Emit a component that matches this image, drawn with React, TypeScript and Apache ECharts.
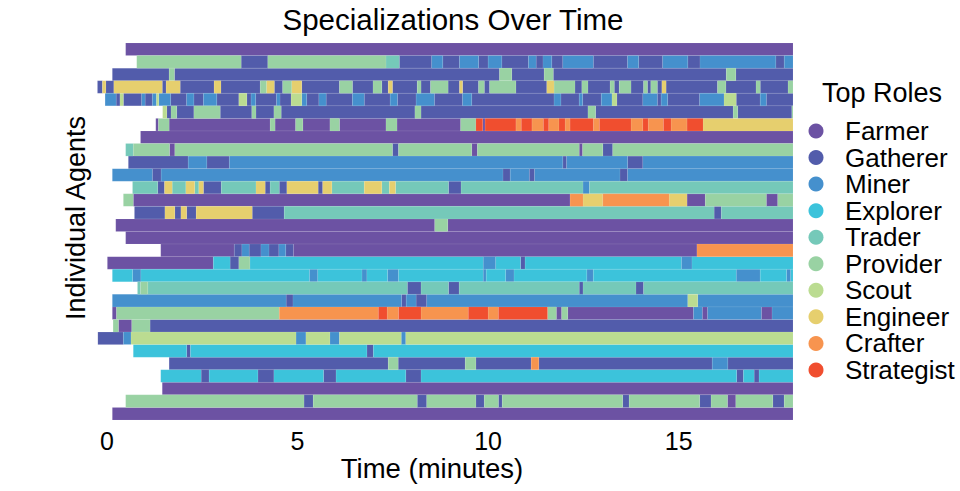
import React, { useEffect, useRef } from "react";
import * as echarts from "echarts";

const FONT = "'Liberation Sans', Arial, Helvetica, sans-serif";

const roleNames = ["Farmer", "Gatherer", "Miner", "Explorer", "Trader", "Provider", "Scout", "Engineer", "Crafter", "Strategist"];
const roleCodes = ["F", "G", "M", "X", "T", "P", "S", "E", "C", "R"];
const roleColors = ["#6c52a3", "#525cab", "#4590cd", "#3cc3db", "#75c9b9", "#99d2a3", "#bbdc91", "#e6cf6e", "#f7944f", "#f04e2f"];

const tickLabels = [0, 5, 10, 15];
const timeMin = 0;
const timeMax = 18;

// time (minutes) at which each agent's record starts, top row first
const agentStarts = [
  0.49, 0.78, 0.14, -0.25, -0.05, 1.46, 1.28, 0.88, 0.49, 0.56,
  0.14, 0.67, 0.43, 0.72, 0.23, 0.49, 1.41, 0.01, 0.14, 0.8,
  0.14, 0.14, 0.16, -0.24, 0.69, 1.63, 1.41, 1.45, 0.49, 0.14,
];

// per agent: role code followed by the time (minutes) at which that role ends
const agentSegments: (string | number)[][] = [
  ["F", 18],
  ["P", 3.52, "G", 4.22, "P", 7.32, "T", 7.67, "G", 8.52, "M", 8.81, "G", 9.25, "M", 9.75, "G", 10.0, "M", 10.36, "G", 11.06, "M", 11.26, "G", 11.44, "M", 11.67, "G", 11.96, "M", 12.76, "G", 13.66, "M", 13.95, "G", 14.58, "M", 15.24, "G", 15.56, "M", 17.55, "G", 17.77, "M", 18],
  ["G", 1.63, "P", 1.77, "G", 10.3, "P", 10.62, "G", 11.47, "P", 11.71, "G", 16.25, "P", 16.5, "G", 18],
  ["G", -0.12, "E", -0.03, "G", 0.18, "E", 1.45, "G", 1.55, "E", 1.92, "G", 2.81, "E", 2.99, "G", 4.02, "P", 4.19, "E", 4.39, "G", 4.61, "P", 4.85, "E", 5.11, "G", 6.1, "P", 6.44, "G", 6.98, "P", 7.21, "G", 7.38, "E", 7.49, "G", 8.14, "P", 8.24, "G", 8.49, "P", 8.95, "G", 9.25, "E", 9.33, "G", 9.75, "P", 9.9, "G", 10.04, "P", 10.73, "G", 11.54, "E", 11.73, "P", 12.28, "G", 12.46, "P", 12.62, "G", 13.2, "P", 13.31, "G", 13.44, "P", 13.75, "G", 14.08, "P", 14.18, "G", 14.27, "P", 14.44, "G", 14.56, "E", 14.67, "G", 16.02, "P", 16.24, "G", 17.03, "P", 17.14, "G", 17.87, "P", 18],
  ["M", 0.24, "G", 0.34, "S", 0.43, "G", 0.91, "M", 1.0, "G", 1.19, "M", 1.3, "S", 1.36, "M", 1.67, "G", 2.09, "M", 2.28, "G", 2.53, "M", 2.88, "G", 3.46, "S", 3.67, "G", 3.78, "M", 3.9, "G", 4.45, "M", 4.54, "G", 4.83, "S", 5.11, "M", 5.24, "G", 5.56, "M", 5.75, "G", 6.44, "M", 6.75, "G", 7.43, "M", 7.62, "G", 8.11, "M", 8.59, "G", 9.33, "M", 9.57, "G", 11.73, "M", 11.91, "G", 12.39, "M", 12.48, "G", 12.97, "M", 13.25, "S", 13.38, "G", 14.06, "M", 14.44, "G", 14.54, "M", 14.71, "G", 15.55, "M", 16.19, "S", 16.51, "G", 17.14, "M", 17.3, "G", 18],
  ["S", 1.57, "G", 1.68, "P", 1.83, "G", 2.28, "P", 2.97, "G", 3.8, "P", 3.91, "G", 4.38, "P", 4.57, "G", 8.08, "P", 8.24, "G", 12.62, "P", 12.82, "G", 16.43, "P", 16.55, "G", 17.97, "P", 18],
  ["F", 1.35, "P", 1.63, "F", 4.28, "P", 4.41, "F", 4.95, "P", 5.14, "F", 5.85, "P", 6.1, "F", 7.32, "P", 7.61, "F", 9.28, "P", 9.68, "R", 9.86, "F", 9.92, "R", 10.73, "C", 10.87, "R", 11.15, "C", 11.45, "R", 11.59, "C", 11.86, "R", 12.02, "C", 12.15, "R", 12.76, "C", 12.92, "R", 13.75, "C", 14.06, "R", 14.2, "C", 14.6, "R", 14.8, "C", 15.22, "R", 15.64, "E", 18],
  ["F", 18],
  ["T", 0.69, "P", 1.64, "F", 1.78, "P", 7.49, "G", 7.65, "P", 9.57, "F", 9.72, "P", 12.39, "F", 12.48, "P", 13.01, "G", 13.27, "P", 18],
  ["G", 2.13, "M", 2.62, "G", 3.21, "M", 11.96, "G", 12.06, "M", 13.66, "G", 14.06, "M", 18],
  ["M", 1.19, "G", 1.42, "M", 10.39, "G", 10.58, "M", 11.08, "G", 11.22, "M", 13.46, "G", 13.66, "M", 18],
  ["T", 1.33, "G", 1.51, "E", 1.71, "T", 2.07, "E", 2.3, "T", 2.41, "E", 2.53, "G", 3.0, "T", 3.91, "E", 4.15, "G", 4.28, "T", 4.52, "G", 4.72, "E", 5.54, "G", 5.66, "E", 5.9, "T", 6.75, "E", 7.21, "T", 7.41, "E", 7.57, "T", 8.96, "G", 9.29, "T", 12.49, "M", 12.66, "T", 18],
  ["P", 0.69, "F", 12.15, "C", 12.49, "E", 13.01, "C", 14.75, "E", 15.22, "F", 15.7, "P", 17.3, "F", 17.6, "P", 18],
  ["G", 1.52, "E", 1.78, "G", 1.94, "E", 2.09, "G", 2.34, "E", 3.81, "G", 4.65, "T", 15.93, "G", 16.12, "T", 18],
  ["F", 8.6, "P", 8.94, "F", 18],
  ["F", 18],
  ["F", 3.34, "G", 3.54, "M", 3.73, "G", 4.04, "M", 4.25, "G", 4.51, "M", 4.69, "G", 4.89, "F", 15.48, "C", 18],
  ["F", 2.79, "X", 3.23, "G", 3.46, "P", 3.75, "X", 9.87, "M", 10.2, "X", 10.85, "G", 10.97, "X", 15.07, "M", 15.35, "X", 18],
  ["X", 0.67, "M", 0.89, "X", 5.31, "M", 5.53, "X", 6.69, "M", 6.82, "X", 7.36, "M", 7.65, "X", 9.87, "M", 9.95, "X", 10.46, "M", 10.68, "X", 12.59, "M", 12.76, "X", 16.51, "M", 17.14, "X", 17.83, "M", 17.94, "X", 18],
  ["T", 0.88, "P", 1.07, "T", 7.88, "G", 8.24, "T", 8.96, "G", 9.24, "T", 12.39, "G", 12.49, "T", 13.88, "G", 14.08, "T", 18],
  ["M", 4.7, "G", 4.88, "M", 7.73, "G", 7.85, "M", 8.11, "G", 8.39, "M", 15.24, "S", 15.5, "M", 18],
  ["F", 0.25, "P", 4.52, "C", 7.12, "R", 7.35, "C", 7.65, "R", 8.24, "C", 9.48, "R", 10.0, "C", 10.27, "R", 11.56, "P", 11.79, "F", 11.93, "P", 12.09, "F", 15.39, "M", 15.62, "F", 15.76, "M", 17.17, "F", 17.45, "M", 18],
  ["P", 0.3, "F", 0.65, "P", 1.13, "G", 18],
  ["G", 0.43, "M", 0.63, "S", 4.96, "M", 5.22, "S", 5.85, "M", 6.1, "S", 7.72, "M", 7.84, "S", 18],
  ["X", 2.09, "G", 2.19, "X", 6.82, "G", 6.99, "X", 18],
  ["G", 7.38, "P", 7.64, "G", 9.4, "P", 9.68, "G", 11.13, "C", 11.33, "G", 15.88, "M", 16.29, "G", 18],
  ["X", 2.47, "G", 2.68, "X", 3.96, "G", 4.38, "X", 5.68, "G", 6.01, "X", 7.84, "G", 8.24, "X", 16.52, "G", 16.7, "X", 16.98, "G", 17.11, "X", 18],
  ["F", 18],
  ["P", 5.17, "G", 5.41, "P", 8.14, "G", 8.39, "P", 9.68, "G", 9.9, "P", 10.27, "G", 10.37, "P", 13.53, "G", 13.7, "P", 15.55, "G", 15.85, "P", 16.28, "F", 16.5, "P", 17.47, "G", 17.77, "P", 18],
  ["F", 18],
];

function buildRoleData(): number[][][] {
  const perRole: number[][][] = roleNames.map(() => []);
  agentSegments.forEach((segs, row) => {
    let start = agentStarts[row];
    for (let i = 0; i < segs.length; i += 2) {
      const r = roleCodes.indexOf(segs[i] as string);
      const end = segs[i + 1] as number;
      perRole[r].push([start, end, row]);
      start = end;
    }
  });
  return perRole;
}

export default function App() {
  const ref = useRef<HTMLDivElement>(null);

  useEffect(() => {
    if (!ref.current) return;
    const chart = echarts.init(ref.current, undefined, { renderer: "svg" });
    const roleData = buildRoleData();
    const nRows = agentSegments.length;

    const series = roleNames.map((name, idx) => ({
      type: "custom",
      name,
      clip: false,
      itemStyle: { color: roleColors[idx] },
      encode: { x: [0, 1], y: 2 },
      data: roleData[idx],
      renderItem: (params: any, api: any) => {
        const s = api.value(0);
        const e = api.value(1);
        const row = api.value(2);
        const p1 = api.coord([s, row]);
        const p2 = api.coord([e, row + 1]);
        return {
          type: "rect",
          shape: { x: p1[0], y: p1[1], width: p2[0] - p1[0], height: p2[1] - p1[1] },
          style: { fill: roleColors[idx], stroke: "rgba(255,255,255,0.16)", lineWidth: 0.5 },
        };
      },
    }));

    // legend drawn as graphic elements (circle marker + label per role)
    const legendTop = 131;
    const legendStep = 26.55;
    const legendItems: any[] = [];
    roleNames.forEach((name, i) => {
      const cy = legendTop + i * legendStep;
      legendItems.push({
        type: "circle",
        shape: { cx: 816, cy, r: 7.5 },
        style: { fill: roleColors[i] },
        silent: true,
      });
      legendItems.push({
        type: "text",
        x: 845,
        y: cy,
        style: { text: name, fontSize: 26, fontFamily: FONT, fill: "#000", align: "left", verticalAlign: "middle" },
        silent: true,
      });
    });

    chart.setOption({
      animation: false,
      backgroundColor: "#ffffff",
      textStyle: { fontFamily: FONT },
      grid: { left: 107, right: 167, top: 43, bottom: 71 },
      xAxis: {
        type: "value",
        min: timeMin,
        max: timeMax,
        interval: 5,
        axisLine: { show: false },
        axisTick: { show: false },
        splitLine: { show: false },
        axisLabel: {
          fontSize: 25,
          color: "#000",
          fontFamily: FONT,
          margin: 8,
          formatter: (v: number) => (tickLabels.includes(v) ? String(v) : ""),
        },
      },
      yAxis: {
        type: "value",
        min: 0,
        max: nRows,
        inverse: true,
        show: false,
      },
      graphic: [
        {
          type: "text",
          x: 453,
          y: 19,
          style: { text: "Specializations Over Time", fontSize: 29.5, fontFamily: FONT, fill: "#000", align: "center", verticalAlign: "middle" },
        },
        {
          type: "text",
          x: 822,
          y: 93,
          style: { text: "Top Roles", fontSize: 27, fontFamily: FONT, fill: "#000", align: "left", verticalAlign: "middle" },
        },
        {
          type: "text",
          x: 432,
          y: 468,
          style: { text: "Time (minutes)", fontSize: 27.5, fontFamily: FONT, fill: "#000", align: "center", verticalAlign: "middle" },
        },
        {
          type: "text",
          x: 76,
          y: 218,
          rotation: Math.PI / 2,
          style: { text: "Individual Agents", fontSize: 27, fontFamily: FONT, fill: "#000", align: "center", verticalAlign: "middle" },
        },
        ...legendItems,
      ],
      series,
    });

    return () => chart.dispose();
  }, []);

  return (
    <div
      ref={ref}
      style={{ position: "absolute", left: 0, top: 0, width: 960, height: 491, background: "#fff" }}
    />
  );
}
